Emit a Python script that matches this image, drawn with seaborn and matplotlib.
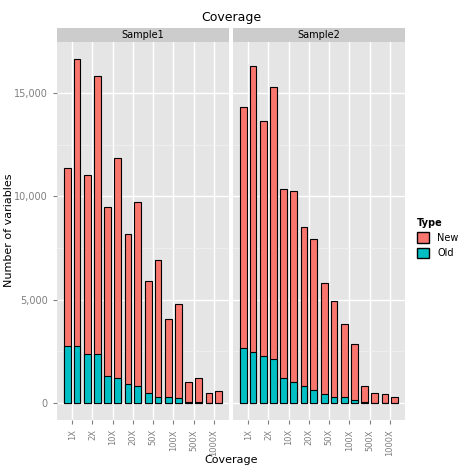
import matplotlib
matplotlib.use("Agg")
import matplotlib.pyplot as plt
import seaborn as sns
import pandas as pd
from matplotlib.patches import Patch
from matplotlib.ticker import FuncFormatter, MultipleLocator

categories = ["1X", "2X", "10X", "20X", "50X", "100X", "500X", "1000X"]
runs = ["a", "b"]
s1_new_a = [11350, 11020, 9460, 8170, 5900, 4070, 1010, 480]
s1_new_b = [16630, 15830, 11830, 9740, 6920, 4780, 1220, 560]
s1_old_a = [2740, 2340, 1280, 900, 480, 290, 30, 10]
s1_old_b = [2740, 2380, 1220, 820, 290, 220, 20, 10]
s2_new_a = [14300, 13620, 10350, 8530, 5790, 3820, 800, 420]
s2_new_b = [16280, 15280, 10250, 7950, 4920, 2870, 500, 260]
s2_old_a = [2640, 2290, 1220, 830, 430, 260, 20, 5]
s2_old_b = [2440, 2100, 1000, 620, 300, 160, 10, 5]

def frame(a, b):
    return pd.DataFrame({"Coverage": categories * 2, "run": ["a"] * 8 + ["b"] * 8,
                         "value": list(a) + list(b)})

panels = [("Sample1", frame(s1_new_a, s1_new_b), frame(s1_old_a, s1_old_b)),
          ("Sample2", frame(s2_new_a, s2_new_b), frame(s2_old_a, s2_old_b))]

RED, CYAN = "#F8766D", "#00BFC4"
fig = plt.figure(figsize=(4.74, 4.74), dpi=100)
axes = [fig.add_axes([57/474, 1-420/474, 172/474, 378/474]),
        fig.add_axes([233/474, 1-420/474, 172/474, 378/474])]

for i, (ax, (name, new, old)) in enumerate(zip(axes, panels)):
    ax.set_facecolor("#E5E5E5")
    ax.set_axisbelow(True)
    for df, col in ((new, RED), (old, CYAN)):
        sns.barplot(data=df, x="Coverage", y="value", hue="run", order=categories,
                    hue_order=runs, palette=[col, col], width=0.95, dodge=True,
                    saturation=1, edgecolor="black", linewidth=0.8, legend=False,
                    ax=ax, errorbar=None)
    for p in ax.patches:
        w = p.get_width()
        p.set_x(p.get_x() + w * 0.15)
        p.set_width(w * 0.7)
    ax.set_ylim(-830, 17460)
    ax.set_xlim(-0.75, 7.75)
    ax.yaxis.set_major_locator(MultipleLocator(5000))
    ax.yaxis.set_minor_locator(MultipleLocator(2500))
    ax.grid(which="major", color="white", linewidth=1.0)
    ax.grid(which="minor", axis="y", color="#F2F2F2", linewidth=0.5)
    for s in ax.spines.values():
        s.set_visible(False)
    ax.tick_params(axis="x", labelrotation=90, labelsize=6, colors="#7F7F7F", length=3)
    ax.tick_params(axis="y", labelsize=7, colors="#7F7F7F", length=3)
    ax.tick_params(which="minor", length=0)
    ax.set_xlabel("")
    ax.set_ylabel("")
    if i == 0:
        ax.yaxis.set_major_formatter(FuncFormatter(lambda v, p: f"{int(v):,}"))
    else:
        ax.tick_params(axis="y", labelleft=False, length=0)
    strip = fig.add_axes([ax.get_position().x0, 1-42/474, ax.get_position().width, 14/474])
    strip.set_facecolor("#CCCCCC")
    strip.set_xticks([]); strip.set_yticks([])
    for s in strip.spines.values():
        s.set_visible(False)
    strip.text(0.5, 0.5, name, ha="center", va="center", fontsize=7, transform=strip.transAxes)

fig.text(231/474, 1-18/474, "Coverage", ha="center", va="center", fontsize=9)
fig.text(231/474, 1-460/474, "Coverage", ha="center", va="center", fontsize=8)
fig.text(9/474, 1-230/474, "Number of variables", ha="center", va="center", rotation=90, fontsize=8)
handles = [Patch(facecolor=RED, edgecolor="black", label="New"),
           Patch(facecolor=CYAN, edgecolor="black", label="Old")]
leg = fig.legend(handles=handles, title="Type", loc="center left",
                 bbox_to_anchor=(408/474, 1-238/474), frameon=False, fontsize=7,
                 title_fontproperties={"weight": "bold", "size": 7}, handlelength=1.3,
                 handleheight=1.3, alignment="left")
fig.savefig("out.png", dpi=100)
